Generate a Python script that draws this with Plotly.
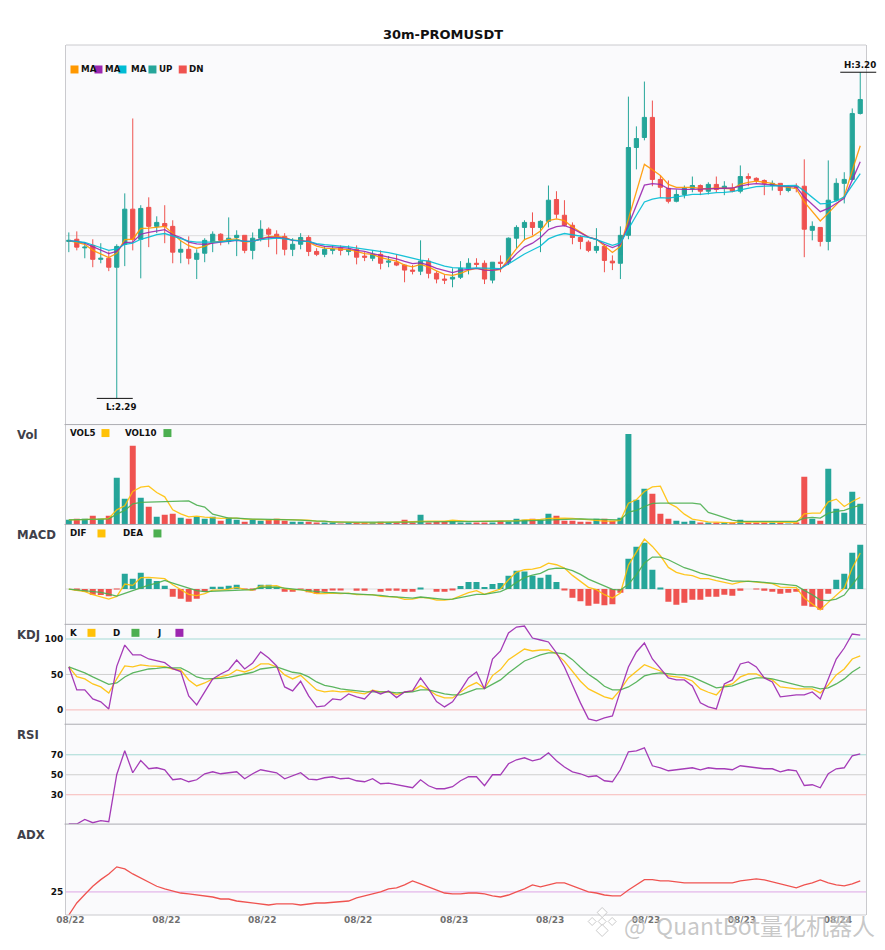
import plotly.graph_objects as go
from plotly.subplots import make_subplots

title = '30m-PROMUSDT'

# candles
opens = [2.728,2.734,2.710,2.717,2.678,2.681,2.656,2.720,2.818,2.734,2.823,2.770,2.778,2.770,2.698,2.706,2.678,2.695,2.726,2.748,
         2.728,2.739,2.745,2.703,2.737,2.762,2.748,2.742,2.706,2.720,2.739,2.700,2.692,2.703,2.709,2.700,2.706,2.687,2.681,2.692,
         2.670,2.670,2.662,2.648,2.645,2.673,2.639,2.623,2.623,2.628,2.653,2.667,2.667,2.620,2.670,2.670,2.737,2.767,2.781,2.767,
         2.784,2.845,2.801,2.773,2.739,2.726,2.703,2.714,2.673,2.667,2.745,2.990,3.018,3.074,2.901,2.876,2.840,2.859,2.876,2.884,
         2.868,2.887,2.876,2.876,2.868,2.909,2.904,2.898,2.884,2.890,2.870,2.882,2.882,2.759,2.767,2.728,2.843,2.890,2.901,3.085]
highs = [2.753,2.756,2.726,2.734,2.723,2.700,2.720,2.862,3.071,2.829,2.851,2.798,2.829,2.787,2.731,2.742,2.706,2.737,2.756,2.751,
         2.795,2.759,2.745,2.753,2.787,2.767,2.759,2.751,2.737,2.751,2.745,2.709,2.714,2.717,2.717,2.717,2.717,2.698,2.703,2.703,
         2.687,2.692,2.664,2.662,2.731,2.681,2.645,2.634,2.653,2.673,2.681,2.681,2.675,2.670,2.689,2.739,2.773,2.787,2.809,2.787,
         2.884,2.868,2.843,2.781,2.745,2.731,2.765,2.720,2.689,2.770,3.132,3.049,3.174,3.121,2.912,2.898,2.873,2.884,2.909,2.887,
         2.893,2.909,2.896,2.890,2.940,2.918,2.907,2.901,2.898,2.890,2.884,2.890,2.957,2.784,2.767,2.954,2.904,2.921,3.099,3.200]
lows = [2.698,2.703,2.681,2.656,2.667,2.645,2.290,2.659,2.703,2.625,2.712,2.751,2.723,2.667,2.667,2.664,2.623,2.670,2.698,2.717,
        2.720,2.687,2.695,2.678,2.728,2.712,2.692,2.689,2.687,2.706,2.687,2.687,2.684,2.692,2.689,2.689,2.664,2.673,2.673,2.650,
        2.656,2.659,2.614,2.636,2.634,2.625,2.611,2.609,2.600,2.623,2.636,2.656,2.609,2.611,2.642,2.662,2.709,2.731,2.745,2.698,
        2.767,2.792,2.770,2.720,2.706,2.698,2.695,2.642,2.648,2.623,2.734,2.929,3.010,2.882,2.851,2.834,2.837,2.848,2.865,2.857,
        2.859,2.865,2.857,2.865,2.862,2.882,2.890,2.857,2.870,2.857,2.865,2.865,2.684,2.731,2.714,2.703,2.840,2.834,2.898,3.082]
closes = [2.731,2.712,2.712,2.678,2.681,2.656,2.714,2.818,2.734,2.820,2.770,2.781,2.770,2.698,2.706,2.681,2.695,2.731,2.748,2.731,
          2.737,2.745,2.703,2.737,2.762,2.748,2.742,2.706,2.720,2.739,2.700,2.692,2.706,2.706,2.703,2.706,2.684,2.684,2.692,2.667,
          2.673,2.662,2.648,2.645,2.673,2.639,2.623,2.620,2.628,2.653,2.667,2.664,2.623,2.670,2.667,2.737,2.767,2.781,2.767,2.784,
          2.843,2.804,2.773,2.739,2.728,2.703,2.714,2.675,2.668,2.745,2.990,3.015,3.074,2.901,2.879,2.840,2.859,2.876,2.884,2.868,
          2.887,2.873,2.882,2.868,2.909,2.904,2.898,2.890,2.890,2.870,2.879,2.879,2.762,2.770,2.728,2.843,2.890,2.901,3.085,3.124]
ma5 = [2.730,2.726,2.720,2.703,2.692,2.683,2.695,2.733,2.734,2.764,2.765,2.768,2.770,2.750,2.730,2.716,2.709,2.714,2.726,2.728,
       2.733,2.735,2.726,2.728,2.735,2.741,2.742,2.739,2.731,2.731,2.726,2.715,2.709,2.707,2.706,2.705,2.700,2.694,2.692,2.683,
       2.678,2.673,2.662,2.657,2.664,2.657,2.646,2.636,2.633,2.639,2.648,2.653,2.649,2.647,2.649,2.680,2.708,2.733,2.742,2.757,
       2.786,2.791,2.786,2.768,2.753,2.740,2.734,2.715,2.697,2.714,2.791,2.866,2.943,2.928,2.912,2.887,2.879,2.879,2.879,2.876,
       2.875,2.877,2.875,2.875,2.887,2.893,2.896,2.893,2.890,2.882,2.879,2.875,2.838,2.810,2.785,2.807,2.832,2.854,2.926,2.995]
ma10 = [2.730,2.728,2.723,2.713,2.703,2.694,2.700,2.725,2.726,2.748,2.753,2.758,2.761,2.747,2.739,2.726,2.721,2.720,2.724,2.726,
        2.728,2.731,2.728,2.728,2.735,2.739,2.739,2.737,2.731,2.730,2.728,2.720,2.714,2.713,2.711,2.709,2.703,2.700,2.694,2.689,
        2.685,2.679,2.672,2.666,2.668,2.662,2.653,2.646,2.641,2.647,2.650,2.653,2.648,2.647,2.651,2.670,2.694,2.713,2.723,2.739,
        2.761,2.769,2.772,2.764,2.752,2.740,2.734,2.720,2.711,2.720,2.773,2.829,2.885,2.889,2.887,2.875,2.873,2.873,2.873,2.874,
        2.876,2.876,2.878,2.877,2.882,2.887,2.889,2.888,2.886,2.882,2.882,2.880,2.852,2.831,2.811,2.820,2.833,2.848,2.899,2.950]
ma20 = [2.730,2.728,2.725,2.718,2.711,2.703,2.707,2.720,2.723,2.734,2.740,2.747,2.750,2.743,2.737,2.729,2.726,2.725,2.726,2.727,
        2.729,2.732,2.728,2.729,2.733,2.736,2.737,2.735,2.731,2.729,2.728,2.722,2.719,2.718,2.715,2.713,2.710,2.706,2.705,2.700,
        2.697,2.692,2.686,2.681,2.676,2.673,2.666,2.659,2.655,2.653,2.653,2.654,2.653,2.651,2.652,2.665,2.679,2.693,2.704,2.715,
        2.735,2.744,2.750,2.747,2.743,2.739,2.733,2.724,2.717,2.724,2.764,2.801,2.838,2.846,2.850,2.849,2.852,2.856,2.859,2.859,
        2.862,2.864,2.865,2.867,2.872,2.877,2.881,2.882,2.883,2.884,2.884,2.884,2.869,2.850,2.833,2.834,2.841,2.852,2.885,2.917]
price_mid = 2.744

# the Vol and MACD panels have no scale in the picture, so these are in arbitrary units
volume = [14,17,17,26,17,26,140,77,236,80,53,23,29,32,20,17,23,17,23,11,
          20,14,8,14,11,14,17,11,8,8,8,5,5,3,2,4,3,3,4,8,
          3,4,14,5,29,5,7,7,11,6,6,5,6,6,11,8,17,14,17,14,
          32,26,11,11,8,8,17,17,11,20,272,74,107,92,32,17,11,8,11,5,
          5,5,5,4,14,5,5,5,5,5,2,5,143,17,11,167,47,35,98,62]
vol5 = [14,14,15,16,16,18,44,56,99,112,115,96,83,44,32,23,25,22,20,18,
        19,19,16,15,14,14,15,15,14,14,13,10,9,7,6,6,5,5,5,6,
        6,6,7,8,10,10,10,10,13,10,9,9,9,9,9,10,11,14,14,15,
        18,19,19,18,16,12,11,10,10,12,64,74,99,113,115,64,52,31,16,11,
        8,7,6,5,8,8,8,8,8,6,6,5,32,34,34,68,76,54,69,81]
vol10 = [14,14,15,15,16,17,31,42,62,66,67,68,70,71,71,71,58,52,31,25,
         19,19,17,16,16,16,16,14,14,13,11,10,10,7,7,7,6,5,5,5,
         5,5,6,7,8,8,8,8,9,9,9,9,9,9,9,10,10,11,12,12,
         15,16,17,17,17,16,16,16,14,14,37,42,54,63,64,64,64,64,64,61,
         36,29,22,13,9,9,9,9,9,9,9,9,19,21,19,34,39,42,51,57]
macd_hist = [0,-2,-8,-17,-18,-22,-1,46,31,49,31,24,10,-23,-29,-38,-29,-9,7,7,
             10,13,-1,-2,13,13,7,-8,-8,-1,-10,-14,-8,-3,-3,0,-5,-5,0,-8,
             -5,-5,-8,-8,3,0,-8,-8,-3,9,21,21,6,15,18,40,55,53,40,34,
             43,21,-2,-26,-37,-50,-44,-49,-46,-11,91,127,139,58,4,-38,-47,-41,-32,-32,
             -23,-23,-17,-20,-5,0,-1,-5,-8,-14,-11,-8,-50,-53,-62,-14,28,46,109,133]
dif = [0,-4,-8,-17,-24,-30,-22,15,11,34,35,33,31,13,-2,-16,-20,-14,-3,-3,
       0,5,-1,-3,9,10,10,1,-2,-2,-7,-14,-14,-12,-14,-12,-17,-17,-17,-22,
       -24,-24,-31,-30,-25,-27,-33,-33,-30,-20,-11,-5,-16,-8,0,28,51,58,60,65,
       78,73,63,41,23,5,-2,-17,-27,-12,72,113,150,128,100,65,50,43,40,31,
       31,25,21,15,21,24,21,19,16,6,6,4,-27,-45,-63,-40,-17,3,63,108]
dea = [0,-2,-6,-8,-10,-15,-21,-13,-4,3,12,18,26,18,10,2,-5,-8,-7,-5,
       -3,-2,-2,-2,5,6,6,3,0,-1,-4,-8,-10,-11,-12,-13,-15,-15,-16,-19,
       -22,-23,-25,-27,-24,-26,-29,-31,-30,-25,-19,-16,-16,-12,-8,3,20,34,42,47,
       59,63,62,55,44,30,20,8,-1,-3,14,43,78,96,96,88,76,64,57,48,
       42,36,30,24,24,24,22,20,18,14,12,10,-4,-17,-33,-35,-30,-18,13,43]
kdj_k = [60.6,46.9,43.7,36.6,32.4,23.9,43.7,62.0,60.6,63.4,62.0,62.0,61.0,57.7,56.3,42.3,33.8,38.0,43.7,46.5,
         49.3,56.3,53.5,57.7,64.8,64.8,60.6,49.3,43.7,48.8,38.0,28.2,25.4,26.8,25.4,26.3,24.4,22.5,27.7,25.4,
         25.8,21.6,24.9,26.8,34.3,28.2,20.7,16.9,16.9,24.9,33.3,38.5,30.0,48.4,56.8,70.9,78.9,85.9,83.1,84.5,
         84.5,78.9,68.5,54.5,40.4,29.6,23.9,18.3,15.5,28.6,45.1,54.9,63.8,59.2,54.9,47.9,46.5,45.1,40.8,29.6,
         24.9,21.1,33.8,36.6,46.5,50.7,50.7,45.1,42.3,32.4,31.0,29.6,29.6,29.6,23.9,35.2,49.3,57.7,71.8,76.1]
kdj_d = [60.6,56.3,52.1,46.5,41.3,36.1,38.0,46.5,52.1,54.5,57.7,58.7,60.1,59.2,59.2,53.5,46.5,43.7,43.7,44.6,
         46.0,48.4,50.2,53.1,57.7,59.2,60.6,56.8,53.1,51.6,46.5,39.4,34.7,32.4,29.6,28.2,26.8,25.8,25.4,25.4,
         25.4,23.9,24.4,25.4,28.2,28.2,25.4,22.5,21.1,21.1,25.4,29.6,30.0,36.6,42.3,52.1,60.6,69.0,73.2,77.5,
         80.3,80.3,78.9,70.9,60.1,50.2,42.7,33.3,28.2,28.2,32.4,39.4,47.9,50.7,52.1,50.7,49.8,49.3,46.5,41.3,
         35.7,31.0,32.4,33.8,38.0,42.3,45.1,45.1,43.7,40.8,38.0,35.2,32.4,32.4,29.6,31.0,36.6,43.7,53.5,60.6]
kdj_j = [60.6,28.2,28.2,15.5,11.3,1.4,61.5,91.5,77.5,77.5,71.8,69.5,66.7,58.2,54.0,19.7,7.0,25.4,43.7,50.7,
         56.3,70.4,57.7,66.2,81.7,73.2,62.0,32.4,26.8,40.4,19.7,4.2,5.6,15.5,14.1,22.5,18.3,15.5,27.2,22.5,
         26.8,17.4,25.4,26.8,45.1,29.6,11.7,4.2,11.3,27.7,45.1,53.5,29.6,71.8,83.1,108.5,116.9,118.3,101.4,98.6,
         95.8,80.3,60.6,35.2,9.9,-12.7,-15.5,-11.3,-8.5,26.8,60.6,81.7,94.4,71.8,57.7,45.1,42.3,42.3,33.8,9.9,
         4.2,1.4,36.6,42.3,64.8,67.6,60.6,45.1,39.4,18.3,19.7,21.1,21.1,25.4,15.5,45.1,71.8,87.3,107.0,105.6]
rsi = [0.7,0.7,5.3,2.0,4.0,3.0,50.3,74.0,52.0,64.3,56.0,57.0,55.0,45.0,46.0,43.0,45.0,51.0,53.0,51.0,
       52.0,53.0,46.0,51.0,55.0,53.3,52.0,46.0,49.0,52.0,45.7,45.0,47.0,48.0,46.0,46.7,44.0,43.0,46.0,41.0,
       41.7,40.0,38.0,37.0,45.0,39.0,36.0,36.0,38.0,44.0,48.0,48.0,39.0,50.0,50.0,61.0,65.0,67.0,64.0,66.0,
       72.0,64.0,57.7,53.0,51.0,48.0,49.0,44.0,43.0,55.0,73.0,74.0,77.0,59.0,57.0,54.0,55.0,56.0,57.0,55.0,
       57.0,56.0,56.0,55.0,59.0,58.0,57.0,56.0,56.0,53.0,55.0,54.0,39.3,40.0,37.0,51.0,56.0,57.0,69.0,71.0]
adx = [10.0,17.8,23.3,28.7,33.0,36.7,41.3,40.0,36.7,33.9,31.3,28.7,27.0,25.7,24.3,23.7,23.0,22.4,21.7,20.4,
       20.4,19.1,18.5,17.8,17.2,16.5,17.2,17.2,17.2,16.5,17.2,17.8,17.8,18.3,18.9,19.1,21.1,22.4,23.7,25.0,
       27.0,27.6,29.6,32.2,30.2,28.3,26.3,24.3,23.7,23.7,24.3,24.3,23.7,22.4,21.7,23.0,25.0,27.0,29.6,28.3,
       29.6,30.9,30.9,28.9,27.0,25.0,24.3,23.0,22.4,22.4,26.3,29.6,33.0,33.0,32.2,32.2,31.5,30.9,30.9,30.9,
       30.9,30.9,30.9,30.9,32.2,32.8,33.5,32.8,31.5,30.2,28.9,27.6,29.6,30.9,32.8,30.9,29.6,28.9,30.2,32.2]

tick_pos = [0, 12, 24, 36, 48, 60, 72, 84, 96]
tick_labels = ['08/22', '08/22', '08/22', '08/22', '08/23', '08/23', '08/23', '08/23', '08/24']

UP = '#26A69A'
DN = '#EF5350'
ORANGE = '#FF9800'
PURPLE = '#9C27B0'
CYAN = '#00BCD4'
YELLOW = '#FFC107'
GREEN = '#4CAF50'
BG = '#FAFAFC'
BOLD = 'DejaVu Sans'
LINE_W = 1.3

# page pixels of the plot area; the browser puts the page 8px in
OFF = 8
LEFT, RIGHT, TOP, BOTTOM = 65.5, 866, 44.5, 915.5
WIDTH, HEIGHT = 885 - OFF, 950 - 2 * OFF
x = list(range(len(closes)))


def px(v):
    return (v - LEFT) / (RIGHT - LEFT)


def py(v):
    return 1 - (v - TOP) / (BOTTOM - TOP)


fig = make_subplots(rows=6, cols=1, shared_xaxes=True, vertical_spacing=0,
                    row_heights=[380, 100, 100, 100, 100, 91])

fig.add_trace(go.Candlestick(x=x, open=opens, high=highs, low=lows, close=closes,
                             increasing=dict(line=dict(color=UP, width=1), fillcolor=UP),
                             decreasing=dict(line=dict(color=DN, width=1), fillcolor=DN),
                             whiskerwidth=0, showlegend=False), row=1, col=1)
for vals, color in [(ma5, ORANGE), (ma10, PURPLE), (ma20, CYAN)]:
    fig.add_trace(go.Scatter(x=x, y=vals, mode='lines', line=dict(color=color, width=LINE_W), opacity=0.9), row=1, col=1)

vol_colors = [UP if c >= o else DN for o, c in zip(opens, closes)]
fig.add_trace(go.Bar(x=x, y=volume, marker=dict(color=vol_colors, line_width=0), width=0.75), row=2, col=1)
for vals, color in [(vol5, YELLOW), (vol10, GREEN)]:
    fig.add_trace(go.Scatter(x=x, y=vals, mode='lines', line=dict(color=color, width=LINE_W), opacity=0.9), row=2, col=1)

hist_colors = [UP if h >= 0 else DN for h in macd_hist]
fig.add_trace(go.Bar(x=x, y=macd_hist, marker=dict(color=hist_colors, line_width=0), width=0.75), row=3, col=1)
for vals, color in [(dif, YELLOW), (dea, GREEN)]:
    fig.add_trace(go.Scatter(x=x, y=vals, mode='lines', line=dict(color=color, width=LINE_W), opacity=0.9), row=3, col=1)

for vals, color in [(kdj_k, YELLOW), (kdj_d, GREEN), (kdj_j, PURPLE)]:
    fig.add_trace(go.Scatter(x=x, y=vals, mode='lines', line=dict(color=color, width=LINE_W), opacity=0.9), row=4, col=1)

fig.add_trace(go.Scatter(x=x, y=rsi, mode='lines', line=dict(color=PURPLE, width=LINE_W), opacity=0.9), row=5, col=1)
fig.add_trace(go.Scatter(x=x, y=adx, mode='lines', line=dict(color=DN, width=LINE_W)), row=6, col=1)

# reference lines
ref_lines = [(1, price_mid, '#DDDDDD'), (3, 0, '#DDDDDD'),
             (4, 100, '#A5DAD5'), (4, 50, '#CFCFCF'), (4, 0, '#F8B9B7'),
             (5, 70, '#A5DAD5'), (5, 50, '#CFCFCF'), (5, 30, '#F8B9B7'),
             (6, 25, '#DDA6E6')]
for row, val, color in ref_lines:
    fig.add_hline(y=val, line=dict(color=color, width=1), layer='below', row=row, col=1)

# panel borders: one stroke each, the separators stick out a little to the left
for y_page, color, start in [(TOP, '#CACACE', LEFT), (424.5, '#ACACB2', 64), (524.5, '#ACACB2', 64),
                             (624.5, '#ACACB2', 64), (724.5, '#ACACB2', 64), (824.5, '#ACACB2', 64),
                             (BOTTOM, '#CACACE', LEFT)]:
    fig.add_shape(type='line', xref='paper', yref='paper', x0=px(start), x1=1, y0=py(y_page), y1=py(y_page),
                  line=dict(color=color, width=1))

# high / low markers on the main panel; the H label sits a bit left so it stays on the page
lo_i = lows.index(min(lows))
hi_i = highs.index(max(highs))
bar_px = (RIGHT - LEFT) / 100.07
for i, val, label, shift, dx in [(lo_i, lows[lo_i], f'L:{min(lows):.2f}', -8.4, 4), (hi_i, highs[hi_i], f'H:{max(highs):.2f}', 7, 0)]:
    x_page = LEFT + (i + 0.35) * bar_px
    y_frac = py(TOP + (3.276 - val) / (3.276 - 2.217) * 380)
    fig.add_shape(type='line', xref='paper', yref='paper', x0=px(x_page - 20), x1=px(x_page + 16),
                  y0=y_frac, y1=y_frac, line=dict(color='#111111', width=1))
    fig.add_annotation(xref='paper', yref='paper', x=px(x_page + dx), y=y_frac, yshift=shift, text=label,
                       xanchor='center', yanchor='middle', showarrow=False,
                       font=dict(family=BOLD, size=8.7, color='#111111', weight=700))

# hand-drawn legends, like the original
legend_items = [
    ('MA', 81, 69, ORANGE, 70), ('MA', 105, 69, PURPLE, 94), ('MA', 131, 69, CYAN, 118), ('UP', 159, 69, UP, 148), ('DN', 189, 69, DN, 178.3),
    ('VOL5', 70, 433, YELLOW, 101), ('VOL10', 125, 433, GREEN, 163),
    ('DIF', 70, 533.5, YELLOW, 97), ('DEA', 123, 533.5, GREEN, 153),
    ('K', 70, 633, YELLOW, 87), ('D', 113, 633, GREEN, 131), ('J', 157, 633, PURPLE, 175),
]
for text, tx, ty, color, sx in legend_items:
    fig.add_shape(type='rect', xref='paper', yref='paper', x0=px(sx), x1=px(sx + 8), y0=py(ty - 4), y1=py(ty + 4),
                  fillcolor=color, line_width=0)
    fig.add_annotation(xref='paper', yref='paper', x=px(tx - 1), y=py(ty), xanchor='left', yanchor='middle', text=text,
                       showarrow=False, font=dict(family=BOLD, size=8.7, color='#111111', weight=700), borderpad=0)

for text, ty in [('Vol', 434.5), ('MACD', 535), ('KDJ', 635), ('RSI', 735), ('ADX', 835)]:
    fig.add_annotation(xref='paper', yref='paper', x=px(15), y=py(ty), xanchor='left', yanchor='middle', text=text,
                       showarrow=False, font=dict(family=BOLD, size=11.7, color='#40404A', weight=700), borderpad=0)

# watermark: logo and text
for cx, cy, r in [(602, 913, 5), (592, 922, 4), (612, 922, 4), (602, 922, 4), (602, 931, 6)]:
    path = f'M {px(cx)} {py(cy - r)} L {px(cx + r)} {py(cy)} L {px(cx)} {py(cy + r)} L {px(cx - r)} {py(cy)} Z'
    fig.add_shape(type='path', xref='paper', yref='paper', path=path, fillcolor='rgba(255,255,255,0.7)',
                  line=dict(color='rgba(190,190,190,0.8)', width=1))
fig.add_annotation(xref='paper', yref='paper', x=px(876), y=py(926), xanchor='right', yanchor='middle',
                   text='@\u00a0\u00a0QuantBot量化机器人', showarrow=False, borderpad=0,
                   font=dict(family='Noto Sans CJK SC', size=23, color='rgba(175,175,175,0.7)', shadow='0 0 2px white'))

fig.update_xaxes(range=[-0.35, 99.72], showgrid=False, zeroline=False, showline=False, ticks='',
                 showticklabels=False, rangeslider_visible=False)
fig.update_xaxes(showticklabels=True, tickmode='array', tickvals=[p + 0.2 for p in tick_pos], ticktext=tick_labels, tickangle=0,
                 ticklabelstandoff=-2, tickfont=dict(family=BOLD, size=9, color='#707070', weight=700), row=6, col=1)
fig.update_yaxes(showgrid=False, zeroline=False, showline=True, mirror=True, linecolor='#CACACE', linewidth=1,
                 ticks='', showticklabels=False)
fig.update_yaxes(range=[2.217, 3.276], row=1, col=1)
fig.update_yaxes(range=[0, 300], row=2, col=1)
fig.update_yaxes(range=[-106, 194], row=3, col=1)
for row, rng, ticks in [(4, [-20.2, 120.7], [0, 50, 100]), (5, [0.6, 100.6], [30, 50, 70]), (6, [10, 69.1], [25])]:
    fig.update_yaxes(range=rng, tickmode='array', tickvals=ticks, showticklabels=True,
                     tickfont=dict(family=BOLD, size=9, color='#111111', weight=700), row=row, col=1)

fig.update_layout(
    width=WIDTH, height=HEIGHT,
    margin=dict(l=LEFT - OFF, r=885 - RIGHT, t=TOP - OFF, b=950 - BOTTOM - OFF, pad=0),
    title=dict(text=title, x=(443 - OFF) / WIDTH, xref='container', xanchor='center',
               y=1 - (34 - OFF) / HEIGHT, yanchor='middle',
               font=dict(family=BOLD, size=13, color='#111111', weight=700)),
    plot_bgcolor=BG, paper_bgcolor='white', showlegend=False, boxgap=0.25, bargap=0.25,
    font=dict(family=BOLD),
)
fig.write_html("out.html")
